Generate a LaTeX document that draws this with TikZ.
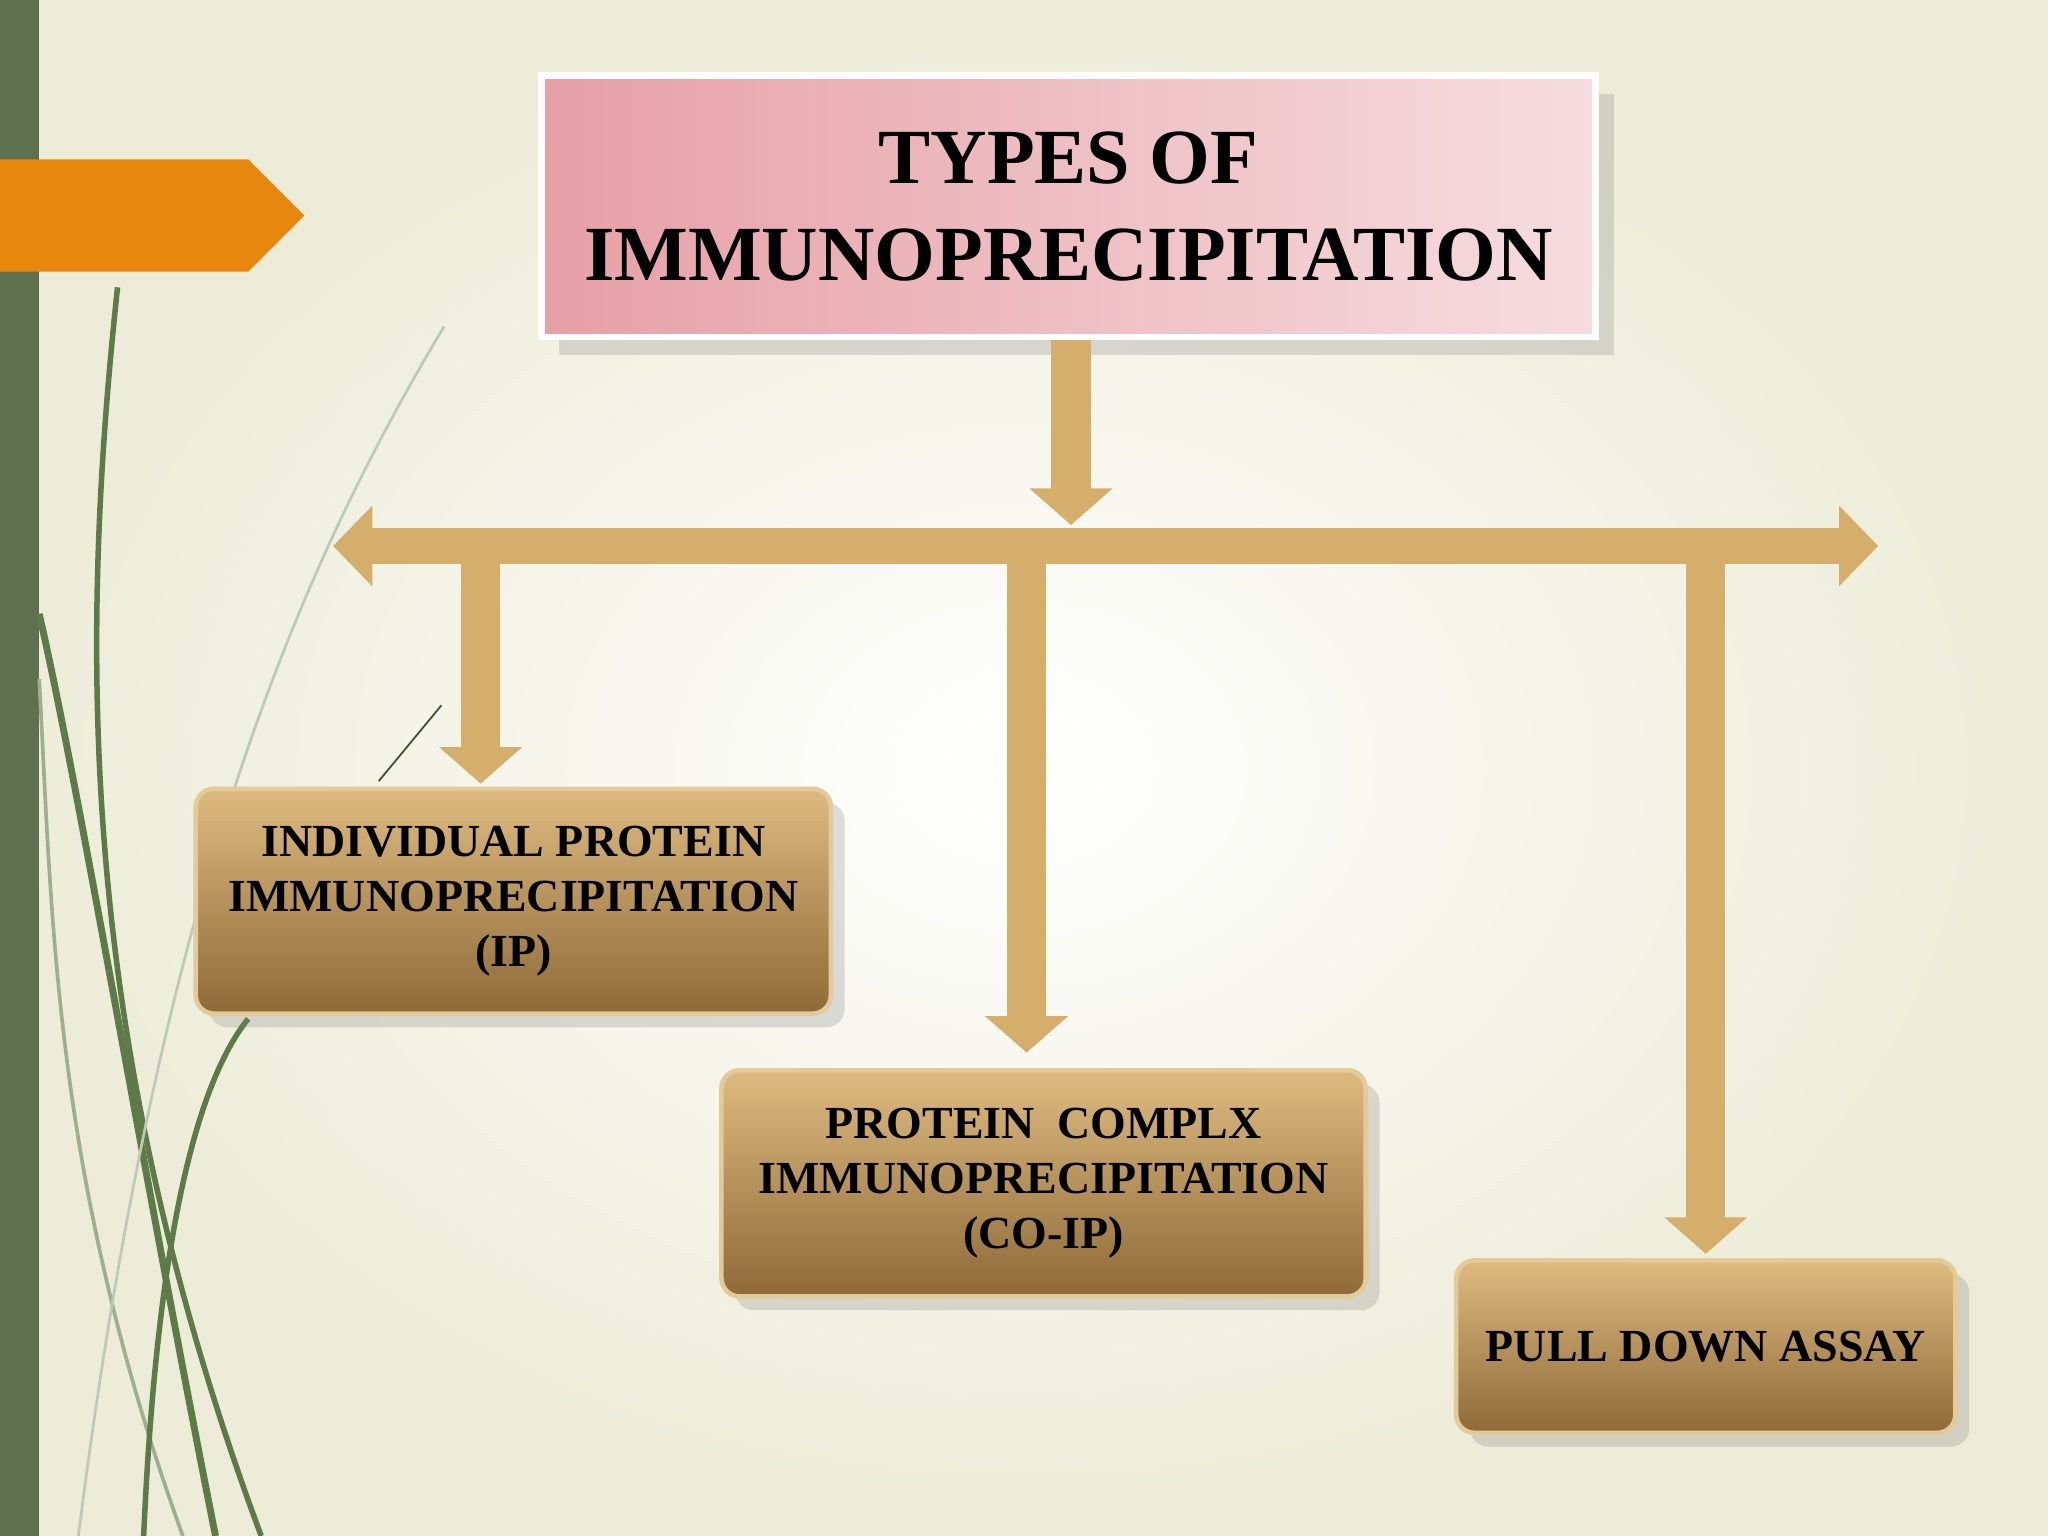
\documentclass[tikz,border=0pt]{standalone}
\usepackage{fontspec}
\setmainfont{Liberation Serif}
\usetikzlibrary{arrows.meta,shadows}
\definecolor{bgc}{HTML}{ECECD8}
\definecolor{barg}{HTML}{5E7050}
\definecolor{orng}{HTML}{E8870E}
\definecolor{gold}{HTML}{D6AE6C}
\definecolor{btop}{HTML}{DDBB80}
\definecolor{bbot}{HTML}{8E6A38}
\definecolor{grass}{HTML}{5E7A48}
\definecolor{pinkl}{HTML}{E6A0A6}
\definecolor{pinkr}{HTML}{F6DDE0}
\tikzset{
  boxst/.style={rounded corners=0.14cm, top color=btop, bottom color=bbot, draw=btop!80!white, line width=1pt,
    drop shadow={shadow xshift=3pt, shadow yshift=-3pt, opacity=0.25}, inner sep=0, align=center,
    font=\bfseries\fontsize{10}{12}\selectfont},
  conn/.style={draw=gold, line width=0.3cm, -{Triangle[width=0.62cm,length=0.28cm]}},
}
\begin{document}
\begin{tikzpicture}[x=0.01cm,y=-0.01cm]
\useasboundingbox (0,0) rectangle (1568,1176);
\shade[inner color=white, outer color=bgc] (0,0) rectangle (1568,1176);
\fill[barg] (0,0) rectangle (30,1176);
\fill[orng] (0,122) -- (190,122) -- (233,165) -- (190,208) -- (0,208) -- cycle;
% grass
\draw[grass, line width=1.2pt] (200,1176) .. controls (60,800) and (60,500) .. (90,220);
\draw[grass, line width=1.5pt] (165,1176) .. controls (110,900) and (60,600) .. (30,470);
\draw[grass!60!white, line width=0.8pt] (140,1176) .. controls (40,900) and (40,700) .. (30,520);
\draw[grass, line width=1.2pt] (110,1176) .. controls (120,950) and (150,830) .. (190,780);
\draw[grass!40!white, line width=0.6pt] (60,1176) .. controls (120,700) and (220,450) .. (340,250);
\draw[grass!70!black, line width=0.4pt] (290,598) -- (338,540);
% title
\node[draw=white, line width=1.5pt, left color=pinkl, right color=pinkr,
  minimum width=8.07cm, minimum height=2cm, align=center, font=\bfseries\fontsize{17}{21}\selectfont,
  drop shadow={shadow xshift=4pt, shadow yshift=-4pt, opacity=0.25}]
  (title) at (818,158) {TYPES OF\\IMMUNOPRECIPITATION};
% boxes
\node[boxst, minimum width=4.86cm, minimum height=1.72cm] (b1) at (393,690) {INDIVIDUAL PROTEIN\\IMMUNOPRECIPITATION\\(IP)};
\node[boxst, minimum width=4.93cm, minimum height=1.73cm] (b2) at (799,906) {PROTEIN\ \ COMPLX\\IMMUNOPRECIPITATION\\(CO-IP)};
\node[boxst, minimum width=3.82cm, minimum height=1.32cm] (b3) at (1306,1031) {PULL DOWN ASSAY};
% bar
\coordinate (L) at (255,418); \coordinate (R) at (1438,418);
\coordinate (M) at (820,402);
\draw[draw=gold, line width=0.27cm, {Triangle[width=0.6cm,length=0.3cm]}-{Triangle[width=0.6cm,length=0.3cm]}] (L) -- (R);
\draw[conn] (title.south -| M) -- (M);
\draw[conn] (368,432) -- (368,600);
\draw[conn] (786,432) -- (786,806);
\draw[conn] (1306,432) -- (1306,960);
\end{tikzpicture}
\end{document}
